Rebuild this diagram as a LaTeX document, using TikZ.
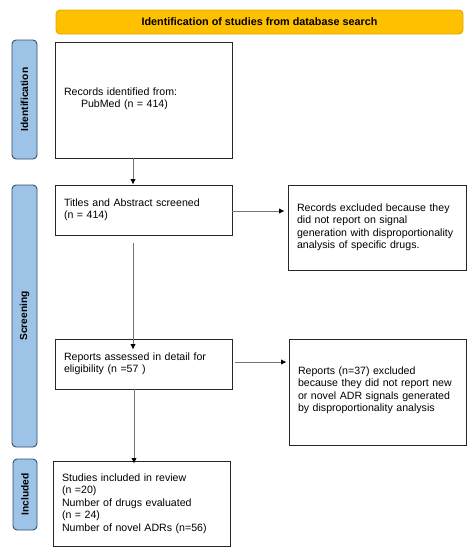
\documentclass[tikz,border=0pt]{standalone}
\usepackage{fontspec}
\setmainfont{Liberation Sans}
\usetikzlibrary{arrows.meta}
\definecolor{bannerfill}{HTML}{FFC000}
\definecolor{bannerdraw}{HTML}{E0A800}
\definecolor{sidefill}{HTML}{9DC3E6}
\definecolor{sidedraw}{HTML}{2F4F6F}
\tikzset{
  box/.style={draw=black!85, line width=0.9pt, align=left, inner xsep=9pt,
    font=\fontsize{10.6}{12.5}\selectfont},
  side/.style={draw=sidedraw, fill=sidefill, line width=0.9pt, rounded corners=4pt,
    inner sep=0pt},
  sidetext/.style={rotate=90, font=\bfseries\fontsize{10.2}{12}\selectfont},
  arr/.style={draw=black!55, line width=0.9pt, -{Latex[black,length=5.5pt,width=5.5pt]}}
}
\begin{document}
\begin{tikzpicture}[x=1pt,y=-1pt]
\useasboundingbox (0,0) rectangle (474,554);
\node[draw=bannerdraw, fill=bannerfill, line width=0.9pt, rounded corners=4pt,
  minimum width=407pt, minimum height=24pt, inner sep=0pt,
  font=\bfseries\fontsize{10.8}{12}\selectfont] (ban) at (259.5,22) {Identification of studies from database search};
% side bars
\node[side, minimum width=25pt, minimum height=119pt] (sid) at (24.5,99.5) {};
\node[sidetext] at (sid.center) {Identification};
\node[side, minimum width=25pt, minimum height=262pt] (sscr) at (24.5,316) {};
\node[sidetext] at (sscr.center) {Screening};
\node[side, minimum width=24pt, minimum height=71pt] (sinc) at (25,494.5) {};
\node[sidetext] at (sinc.center) {Included};
% boxes
\node[box, text width=159pt, minimum height=116pt] (b1) at (143.5,100)
  {\raisebox{5pt}{\parbox[b]{159pt}{Records identified from:\\\hspace*{17pt}PubMed (n = 414)}}};
\node[box, text width=159pt, minimum height=50pt] (b2) at (143.5,210)
  {Titles and Abstract screened\\(n = 414)};
\node[box, text width=160pt, minimum height=85pt] (b3) at (377,227.5)
  {Records excluded because they\\did not report on signal\\generation with disproportionality\\analysis of specific drugs.};
\node[box, text width=159pt, minimum height=50pt] (b4) at (143.5,364)
  {Reports assessed in detail for\\eligibility (n =57 )};
\node[box, text width=159pt, minimum height=106pt] (b5) at (377.5,392)
  {\raisebox{6pt}{\parbox[b]{159pt}{Reports (n=37) excluded\\because they did not report new\\or novel ADR signals generated\\by disproportionality analysis}}};
\node[box, text width=159pt, minimum height=85pt] (b6) at (141.5,503.5)
  {Studies included in review\\(n =20)\\Number of drugs evaluated\\(n = 24)\\Number of novel ADRs (n=56)};
% connectors
\draw[arr] ([xshift=-10.5pt]b1.south) -- ([xshift=-10.5pt]b2.north);
\draw[arr] ([xshift=-10.5pt,yshift=-8pt]b2.south) -- ([xshift=-10.5pt,yshift=-11pt]b4.north);
\draw[arr] ([xshift=-9.5pt]b4.south) -- ([xshift=-9.5pt,yshift=-3pt]b4.south |- b6.north);
\draw[arr] ([yshift=-1pt]b2.east) -- ([xshift=-3pt,yshift=-1pt]b3.west |- b2.east);
\draw[arr] ([xshift=3pt,yshift=2pt]b4.east) -- ([xshift=-2pt,yshift=2pt]b5.west |- b4.east);
\end{tikzpicture}
\end{document}
